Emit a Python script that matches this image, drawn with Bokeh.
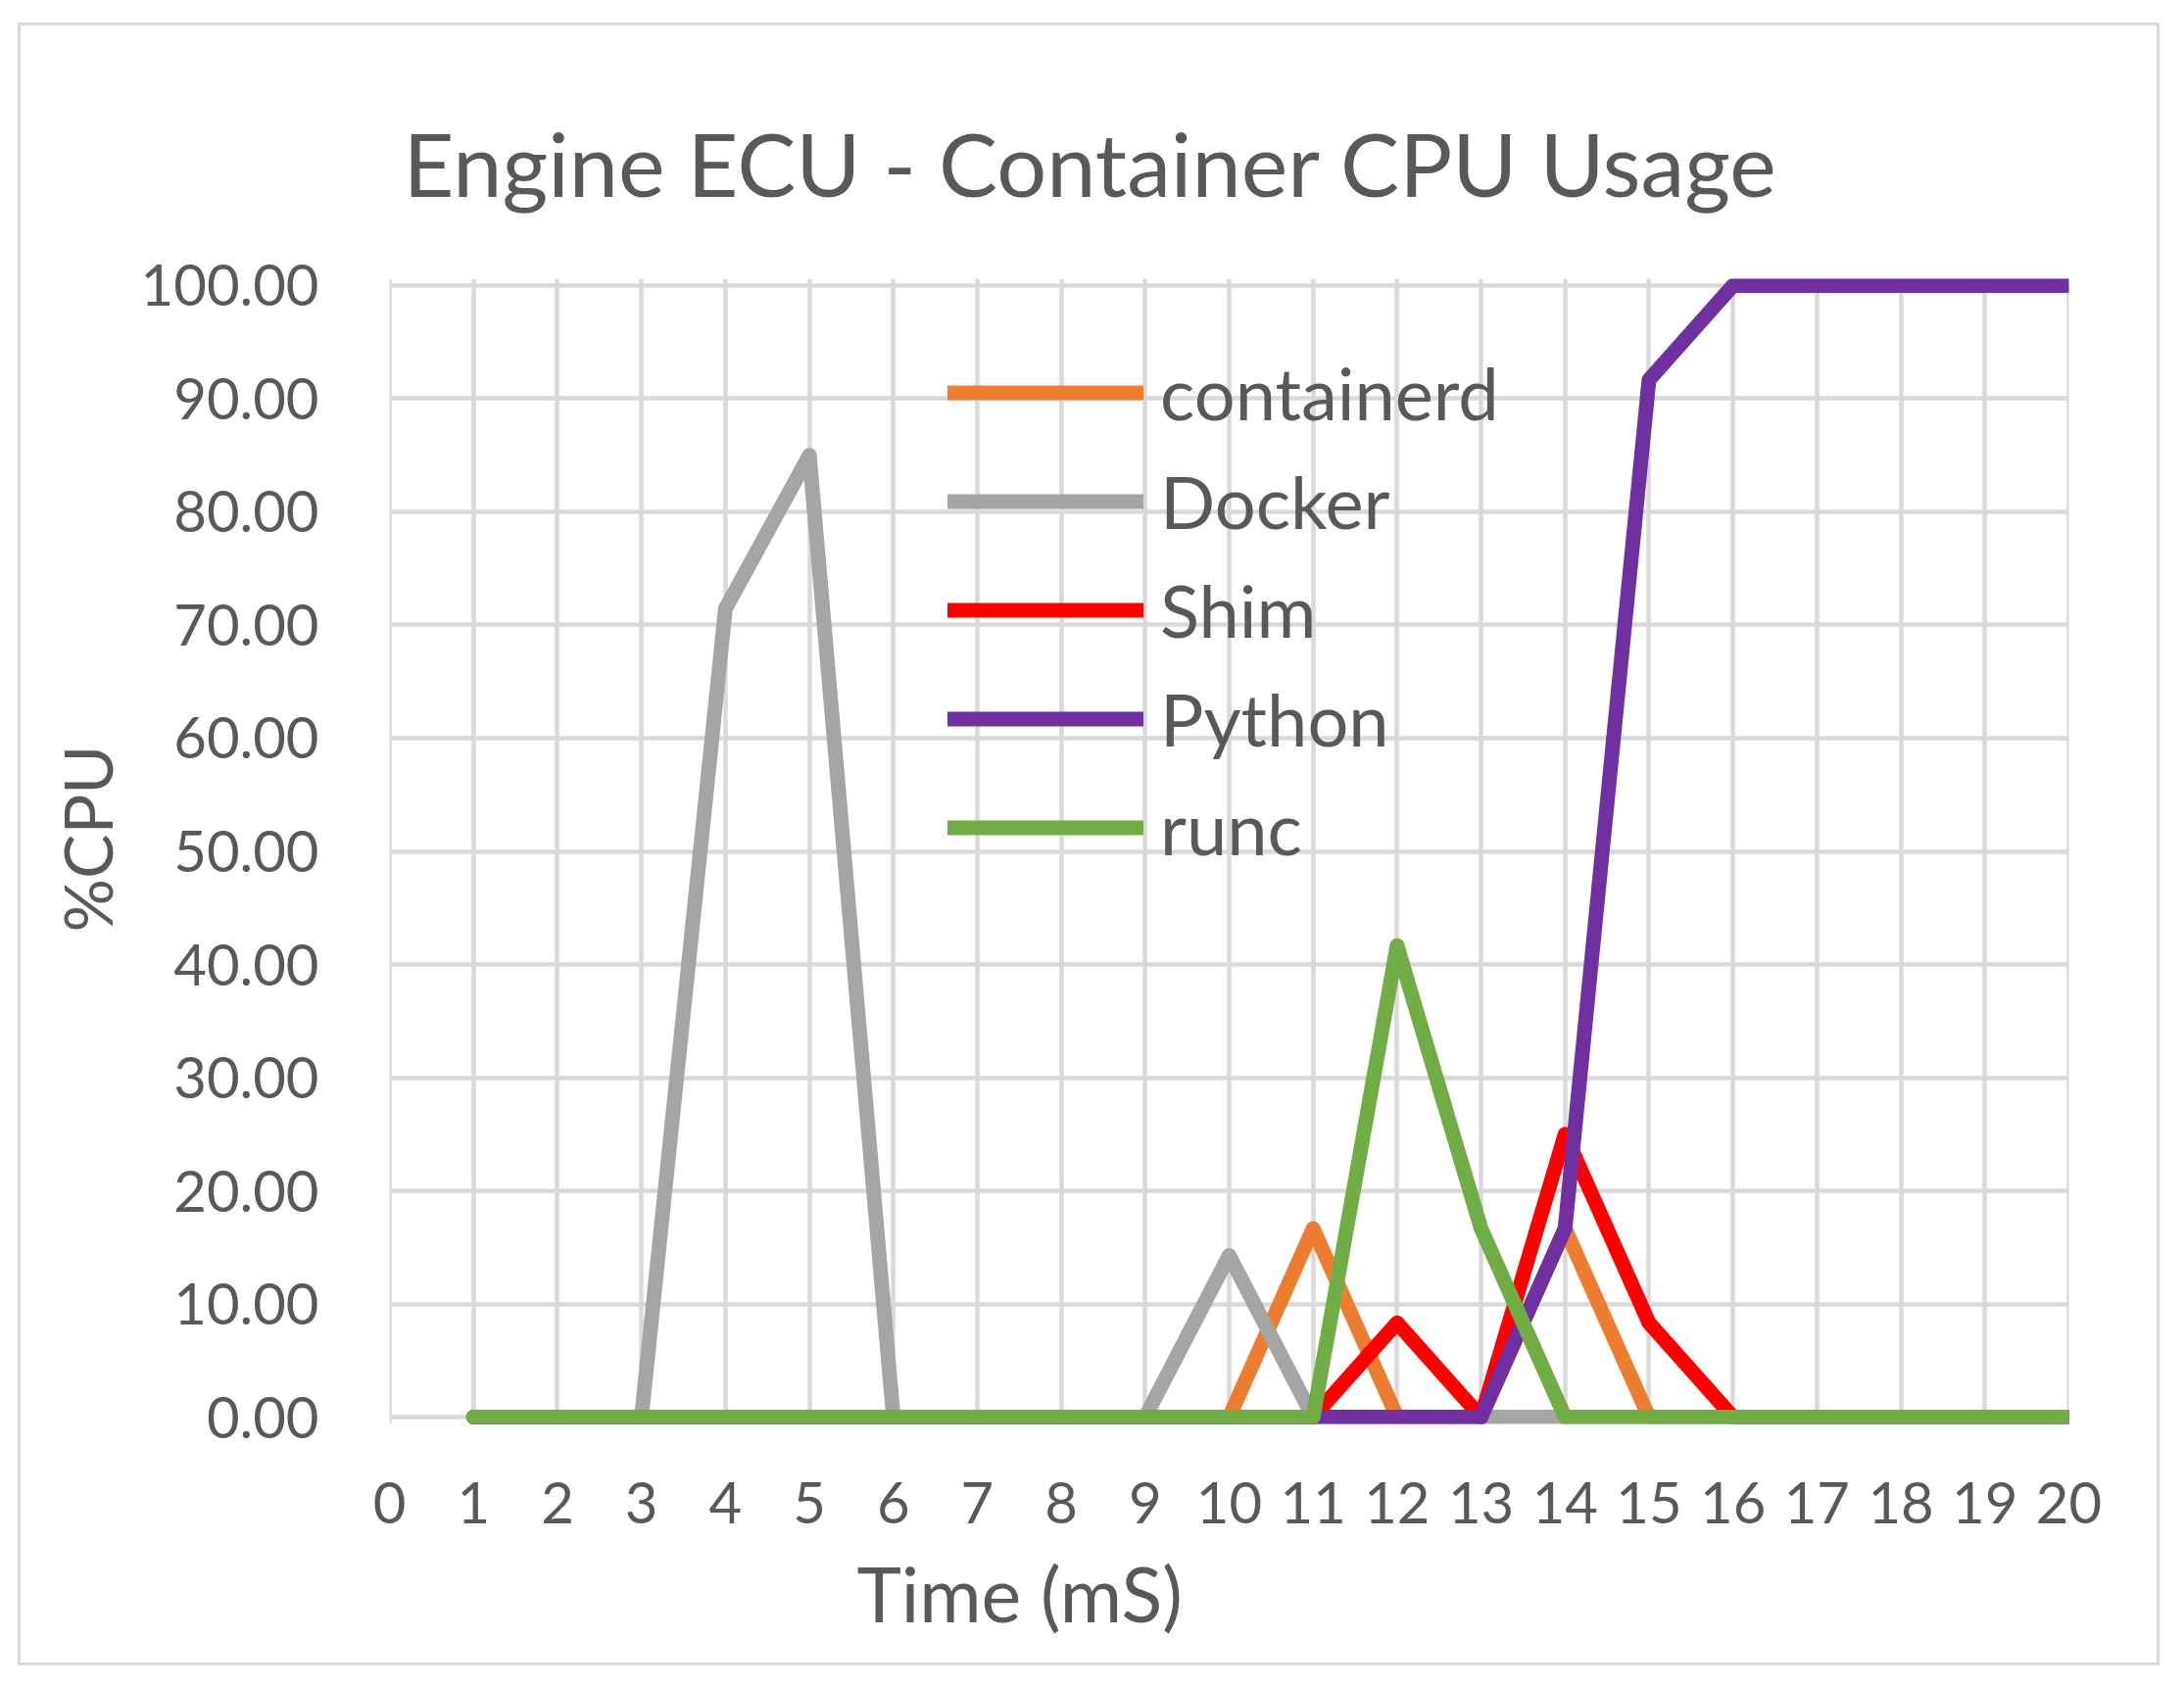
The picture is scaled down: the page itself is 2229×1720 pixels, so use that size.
from bokeh.plotting import figure
from bokeh.models import Legend, LegendItem, Title, FixedTicker, PrintfTickFormatter, Range1d
from bokeh.embed import file_html
from bokeh.resources import INLINE

# ---- data ----
time_ms = list(range(1, 21))
x_ticks = list(range(0, 21))
y_ticks = list(range(0, 101, 10))

containerd = [0, 0, 0, 0, 0, 0, 0, 0, 0, 0, 16.67, 0, 0, 16.67, 0, 0, 0, 0, 0, 0]
docker     = [0, 0, 0, 71.43, 85.0, 0, 0, 0, 0, 14.29, 0, 0, 0, 0, 0, 0, 0, 0, 0, 0]
shim       = [0, 0, 0, 0, 0, 0, 0, 0, 0, 0, 0, 8.33, 0, 25.0, 8.33, 0, 0, 0, 0, 0]
python     = [0, 0, 0, 0, 0, 0, 0, 0, 0, 0, 0, 0, 0, 16.67, 91.67, 100, 100, 100, 100, 100]
runc       = [0, 0, 0, 0, 0, 0, 0, 0, 0, 0, 0, 41.67, 16.67, 0, 0, 0, 0, 0, 0, 0]

series_names = ["containerd", "Docker", "Shim", "Python", "runc"]
series_values = [containerd, docker, shim, python, runc]
series_colors = ["#ED7D31", "#A5A5A5", "#FF0000", "#7030A0", "#70AD47"]

TEXT = "#595959"
GRID = "#D9D9D9"
FONT = "Lato"

p = figure(width=2186, height=1677, output_backend="svg", toolbar_location=None,
           x_range=Range1d(-0.001, 20.001), y_range=Range1d(-0.6, 100.6),
           min_border_left=376, min_border_right=96, min_border_top=258,
           min_border_bottom=250)
p.margin = (23, 0, 0, 18)
p.styles = {"border": "3px solid #D9D9D9", "box-sizing": "border-box"}
p.outline_line_color = None
p.background_fill_color = "white"
p.border_fill_color = "white"

# title
p.title.text = "Engine ECU - Container CPU Usage"
p.title.text_font = FONT
p.title.text_font_size = "90px"
p.title.text_font_style = "normal"
p.title.text_color = TEXT
p.title.align = "left"
p.title.offset = 14
p.title.standoff = 129

# grids
p.xgrid.ticker = FixedTicker(ticks=x_ticks)
p.ygrid.ticker = FixedTicker(ticks=y_ticks)
for g in (p.xgrid, p.ygrid):
    g.grid_line_color = GRID
    g.grid_line_width = 4.5

# axes
for ax in (p.xaxis, p.yaxis):
    ax.axis_line_color = None
    ax.major_tick_line_color = None
    ax.minor_tick_line_color = None
    ax.major_label_text_font = FONT
    ax.major_label_text_color = TEXT
    ax.major_label_text_font_size = "58px"

p.xaxis.ticker = FixedTicker(ticks=x_ticks)
p.xaxis.major_label_standoff = 53
p.yaxis.ticker = FixedTicker(ticks=y_ticks)
p.yaxis.formatter = PrintfTickFormatter(format="%.2f")
p.yaxis.major_label_standoff = 66

# y axis title, placed as a side title so it can be shifted along the axis
p.add_layout(Title(text="%CPU", align="left", offset=502,
                   text_font=FONT, text_font_size="68px", text_font_style="normal",
                   text_color=TEXT, standoff=24), "left")

p.add_layout(Title(text="Time (mS)", align="left", offset=477,
                   text_font=FONT, text_font_size="77px", text_font_style="normal",
                   text_color=TEXT, standoff=40), "below")

# lines
items = []
for name, vals, col in zip(series_names, series_values, series_colors):
    r = p.line(time_ms, vals, line_color=col, line_width=15,
               line_join="round", line_cap="round")
    items.append(LegendItem(label=name, renderers=[r]))

legend = Legend(items=items, location=(570, 553), orientation="vertical",
                glyph_width=200, glyph_height=111, label_height=111, spacing=0,
                padding=0, margin=0, label_standoff=17,
                label_text_font=FONT, label_text_font_size="74px",
                label_text_color=TEXT, label_text_baseline="middle",
                border_line_color=None, background_fill_alpha=0)
p.add_layout(legend)

open("out.html", "w").write(file_html(p, INLINE))
